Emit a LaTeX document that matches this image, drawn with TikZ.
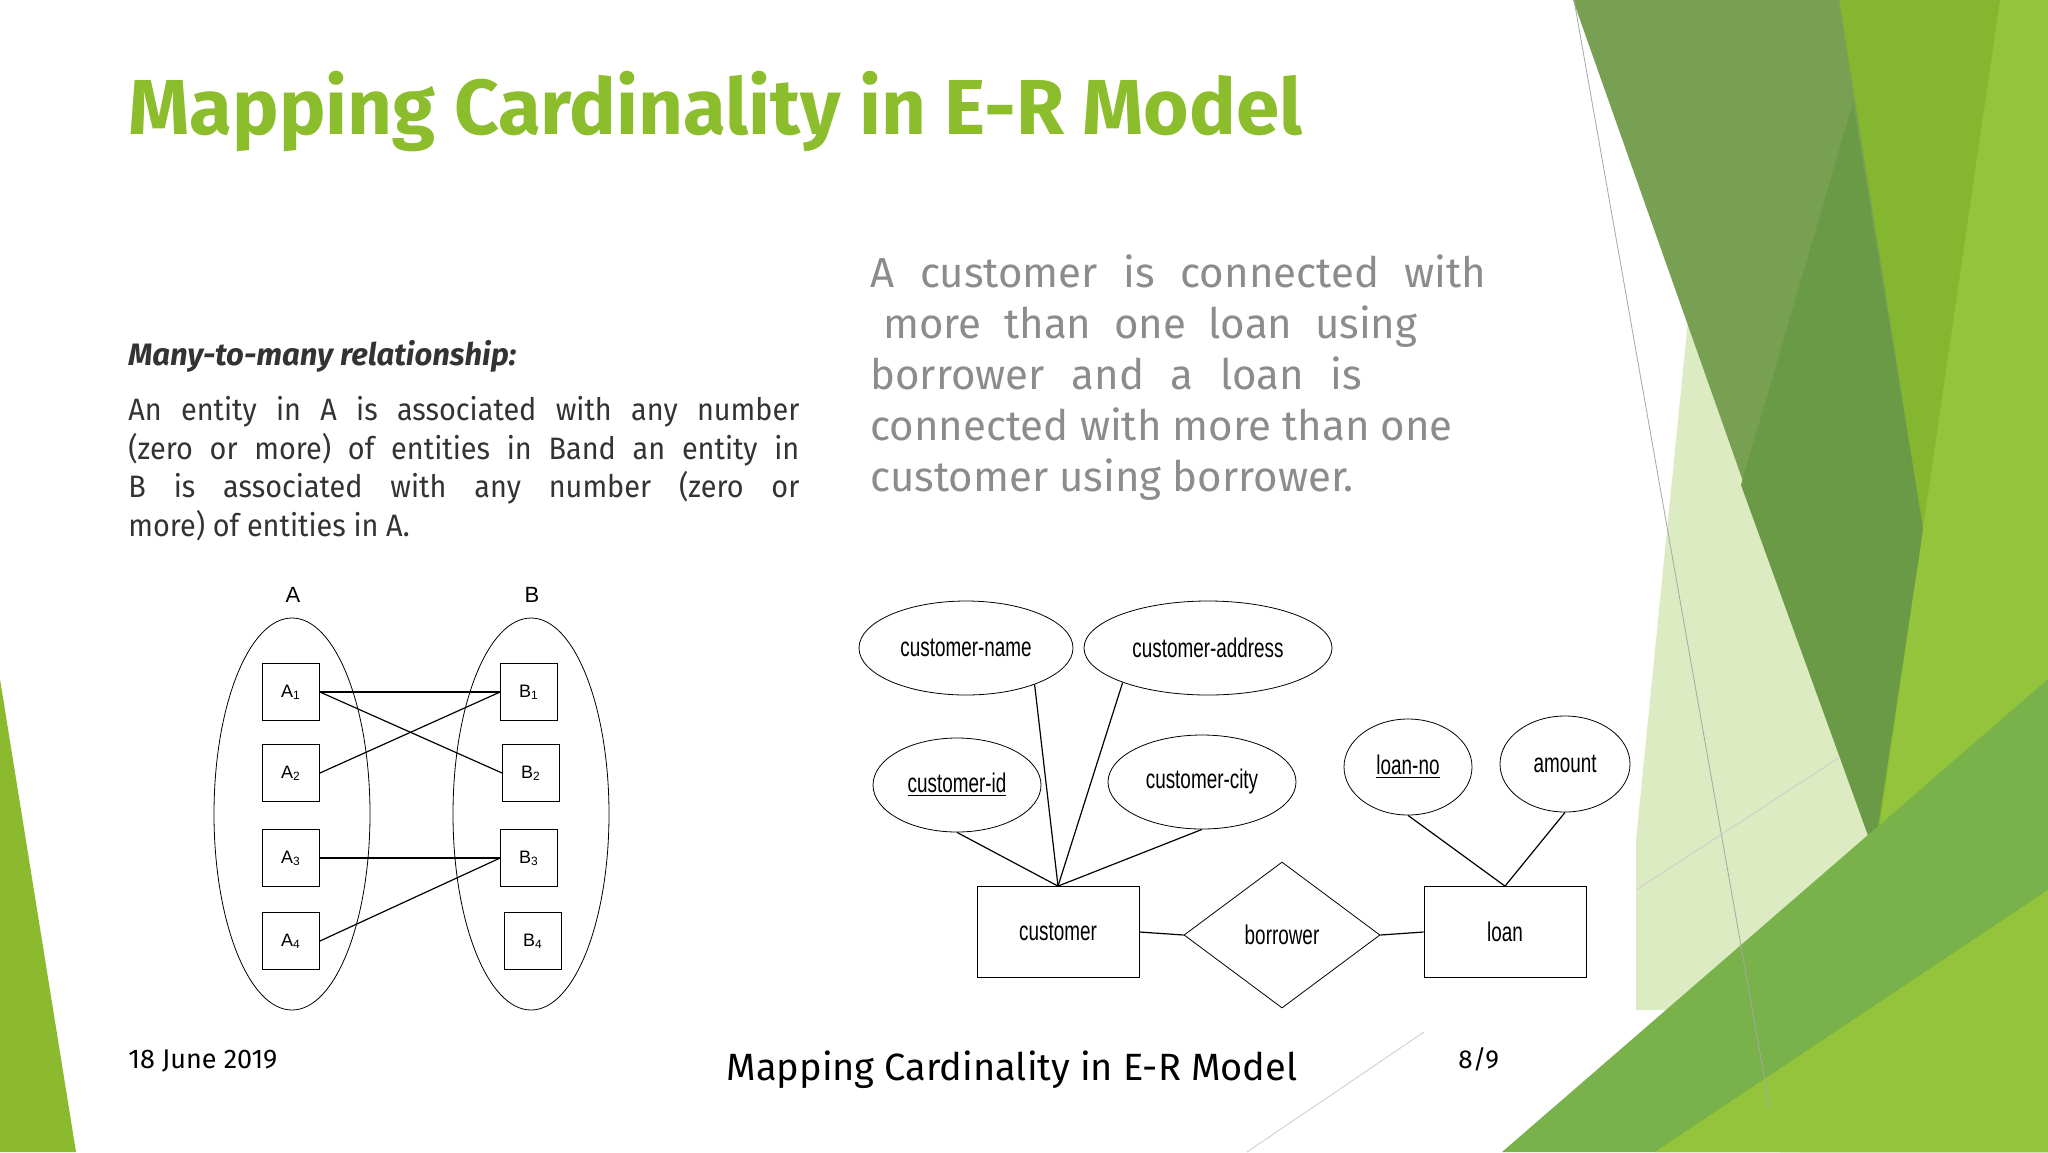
\documentclass[tikz,border=0pt]{standalone}
\usepackage{fontspec}
\setmainfont{Fira Sans}
\newfontfamily\bodyfont[FakeStretch=0.93]{Fira Sans}
\newfontfamily\narrowfont[FakeStretch=0.7]{Liberation Sans}
\newfontfamily\plainsans{Liberation Sans}
\usetikzlibrary{shapes.geometric,positioning}
\definecolor{titlegreen}{HTML}{8CBD2C}
\definecolor{olivegreen}{HTML}{77A052}
\definecolor{deepgreen}{HTML}{6A9A45}
\definecolor{grassgreen}{HTML}{84B62F}
\definecolor{limegreen}{HTML}{94C43C}
\definecolor{bandgreen}{HTML}{79B24A}
\definecolor{palegreen}{HTML}{DDEBC2}
\definecolor{bodygray}{HTML}{8C8C8C}
\tikzset{
  entity/.style={draw,rectangle,minimum width=81pt,minimum height=45.5pt,inner sep=0pt,font=\narrowfont\fontsize{13.5}{13.5}\selectfont},
  attrib/.style={draw,ellipse,inner sep=0pt,font=\narrowfont\fontsize{13.5}{13.5}\selectfont},
  relship/.style={draw,diamond,minimum width=98pt,minimum height=73pt,inner sep=0pt,font=\narrowfont\fontsize{13.5}{13.5}\selectfont},
  member/.style={draw,rectangle,minimum size=28.5pt,inner sep=0pt,font=\plainsans\fontsize{9}{9}\selectfont},
  setoval/.style={draw,ellipse,minimum width=78pt,minimum height=196pt,inner sep=0pt},
  link/.style={draw,line width=0.6pt}
}
\begin{document}
\begin{tikzpicture}[x=0.5pt,y=0.5pt,yscale=-1]
\useasboundingbox (0,0) rectangle (2048,1152);
\fill[white] (0,0) rectangle (2048,1152);

%Shape: background greens
\fill[grassgreen] (1839,0) -- (2048,0) -- (2048,1152) -- (1800,1152) -- cycle;
\fill[limegreen] (2000,0) -- (2048,0) -- (2048,1152) -- (1780,1152) -- (1864,933) -- cycle;
\fill[palegreen] (1690,300) -- (1877,849) -- (1760,1010) -- (1636,1010) -- (1636,840) -- cycle;
\fill[olivegreen] (1573,0) -- (1839,0) -- (1923,529) -- (1874,852) -- cycle;
\fill[deepgreen] (1741,485) -- (1853,103) -- (1923,529) -- (1874,852) -- cycle;
\fill[bandgreen] (1502,1152) -- (2048,679) -- (2048,1152) -- cycle;
\fill[limegreen] (1655,1152) -- (2048,890) -- (2048,1152) -- cycle;
\fill[limegreen!90!black!20!titlegreen] (0,679) -- (76,1152) -- (0,1152) -- cycle;
%Straight Lines: thin rules
\draw[gray!70,line width=0.4pt] (1574,0) -- (1770,1110);
\draw[gray!40,line width=0.4pt] (1636,890) -- (1840,757);
\draw[gray!40,line width=0.4pt] (1247,1152) -- (1424,1032);
%Shape: white panel
\fill[white] (860,590) rectangle (1635,1032);

% Text Node
\node[anchor=base west,inner sep=0pt,text=titlegreen,font=\bfseries\fontsize{39}{39}\selectfont] (title) at (128,134) {Mapping Cardinality in E-R Model};
% Text Node
\node[anchor=base west,inner sep=0pt,font=\bfseries\itshape\fontsize{15.5}{15}\selectfont,text=black!80] (heading) at (128,365) {Many-to-many relationship:};
% Text Node
\node[anchor=north west,inner sep=0pt,text width=335.5pt,align=justify,text=black!80,font=\bodyfont\fontsize{15.5}{19.25}\selectfont] (body) at (128,396)
  {An entity in A is associated with any number\linebreak (zero or more) of entities in Band an entity in\linebreak B is associated with any number (zero or\linebreak more) of entities in A.};
% Text Node
\node[anchor=north west,inner sep=0pt,align=left,text=bodygray,font=\fontsize{21}{25.5}\selectfont] (note) at (870,254)
  {\makebox[308pt][s]{A customer is connected with}\\
   \hspace*{6.5pt}\makebox[267pt][s]{more than one loan using}\\
   \makebox[246pt][s]{borrower and a loan is}\\
   connected with more than one\\
   customer using borrower.};

% Set diagram
\node[font=\plainsans\fontsize{11}{11}\selectfont] (labA) at (293,595) {A};
\node[font=\plainsans\fontsize{11}{11}\selectfont] (labB) at (532,595) {B};
\node[setoval] (setA) at (292,814) {};
\node[setoval] (setB) at (531,814) {};
\foreach \i/\y in {1/692,2/773,3/858,4/941}{
  \node[member] (a\i) at (291,\y) {A\textsubscript{\i}};
}
\node[member] (b1) at (529,692) {B\textsubscript{1}};
\node[member] (b2) at (531,773) {B\textsubscript{2}};
\node[member] (b3) at (529,858) {B\textsubscript{3}};
\node[member] (b4) at (533,941) {B\textsubscript{4}};
\draw[link] (a1.east) -- (b1.west);
\draw[link] (a1.east) -- (b2.west);
\draw[link] (a2.east) -- (b1.west);
\draw[link] (a3.east) -- (b3.west);
\draw[link] (a4.east) -- (b3.west);

% E-R diagram
\node[attrib,minimum width=107pt,minimum height=47pt] (cname) at (966,648) {customer-name};
\node[attrib,minimum width=124pt,minimum height=47pt] (caddr) at (1208,648) {customer-address};
\node[attrib,minimum width=84pt,minimum height=47pt] (cid) at (957,785) {\underline{customer-id}};
\node[attrib,minimum width=94pt,minimum height=47pt] (ccity) at (1202,782) {customer-city};
\node[attrib,minimum width=64pt,minimum height=48pt] (loanno) at (1408,767) {\underline{loan-no}};
\node[attrib,minimum width=65pt,minimum height=48pt] (amount) at (1565,764) {amount};
\node[entity] (cust) at (1058,932) {customer};
\node[relship] (borrow) at (1282,935) {borrower};
\node[entity] (loan) at (1505,932) {loan};
\draw[link] (cname.-28) -- (cust.north);
\draw[link] (caddr.-158) -- (cust.north);
\draw[link] (cid.south) -- (cust.north);
\draw[link] (ccity.south) -- (cust.north);
\draw[link] (loanno.south) -- (loan.north);
\draw[link] (amount.south) -- (loan.north);
\draw[link] (cust.east) -- (borrow.west);
\draw[link] (borrow.east) -- (loan.west);

% Footer
\node[anchor=base west,inner sep=0pt,font=\fontsize{13.5}{13.5}\selectfont] (date) at (128,1068) {18 June 2019};
\node[anchor=base,inner sep=0pt,font=\fontsize{19}{19}\selectfont] (foot) at (1012,1080) {Mapping Cardinality in E-R Model};
\node[anchor=base west,inner sep=0pt,font=\fontsize{13}{13}\selectfont] (page) at (1458,1068) {8/9};
\end{tikzpicture}
\end{document}
